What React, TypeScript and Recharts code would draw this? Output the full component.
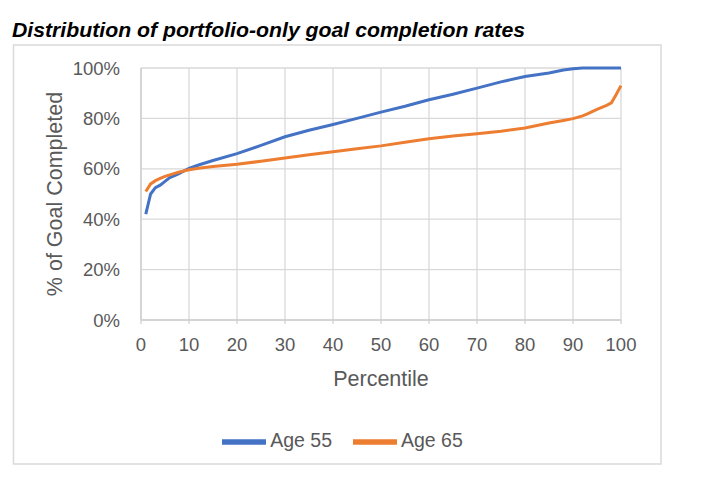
import React from "react";
import { LineChart, Line, XAxis, YAxis, CartesianGrid, Legend } from "recharts";

const percentiles = [1, 2, 3, 4, 5, 6, 7, 8, 10, 12, 15, 20, 25, 30, 35, 40, 45, 50, 55, 60, 65, 70, 75, 80, 85, 88, 90, 92, 93, 95, 97, 98, 99, 100];
const age55 = [42, 50, 52.5, 53.5, 55, 56.5, 57.3, 58.2, 60.2, 61.5, 63.3, 66, 69.3, 72.7, 75.3, 77.6, 80, 82.5, 84.8, 87.4, 89.6, 92, 94.5, 96.6, 98, 99.2, 99.7, 100, 100, 100, 100, 100, 100, 100];
const age65 = [51, 54, 55.3, 56.2, 57, 57.6, 58.2, 58.7, 59.6, 60.2, 60.9, 61.8, 63, 64.3, 65.6, 66.8, 68, 69.1, 70.5, 71.9, 73, 73.9, 74.9, 76.2, 78.2, 79.2, 79.9, 81, 81.8, 83.6, 85.2, 86.2, 89.5, 93];
const xTicks = [0, 10, 20, 30, 40, 50, 60, 70, 80, 90, 100];
const yTicks = [0, 20, 40, 60, 80, 100];

const data = percentiles.map((p, i) => ({ p, a55: age55[i], a65: age65[i] }));

const FONT = "'Liberation Sans', Arial, sans-serif";
const TXT = "#595959";

export default function App() {
  return (
    <div style={{ position: "absolute", left: 0, top: 0, width: 706, height: 486, background: "#fff" }}>
      <svg width={706} height={486} style={{ position: "absolute", left: 0, top: 0 }}>
        <text
          x={12}
          y={37}
          fontFamily={FONT}
          fontWeight="bold"
          fontStyle="italic"
          fontSize={20}
          fill="#000"
          textLength={513}
          lengthAdjust="spacingAndGlyphs"
        >
          Distribution of portfolio-only goal completion rates
        </text>
        <rect x={13.5} y={45} width={647.5} height={419} fill="none" stroke="#d9d9d9" strokeWidth={1.5} />
      </svg>
      <div style={{ position: "absolute", left: 0, top: 0 }}>
        <LineChart
          width={706}
          height={486}
          data={data}
          margin={{ top: 68, right: 85, left: 81, bottom: 92 }}
          style={{ fontFamily: FONT }}
        >
          <CartesianGrid stroke="#d9d9d9" strokeWidth={1.3} />
          <XAxis
            dataKey="p"
            type="number"
            domain={[0, 100]}
            ticks={xTicks}
            interval={0}
            height={30}
            tickSize={4}
            tickMargin={14}
            axisLine={{ stroke: "#cfcfcf", strokeWidth: 1.5 }}
            tickLine={{ stroke: "#cfcfcf", strokeWidth: 1.3 }}
            tick={{ fill: TXT, fontSize: 18.5, fontFamily: FONT }}
            label={{ value: "Percentile", position: "insideBottom", offset: -36, fill: TXT, fontSize: 21.5, fontFamily: FONT }}
          />
          <YAxis
            type="number"
            domain={[0, 100]}
            ticks={yTicks}
            interval={0}
            width={60}
            tickSize={19}
            tickLine={false}
            axisLine={{ stroke: "#cfcfcf", strokeWidth: 1.5 }}
            tickFormatter={(v: number) => `${v}%`}
            tick={{ fill: TXT, fontSize: 18.5, fontFamily: FONT }}
            label={{
              value: "% of Goal Completed",
              angle: -90,
              position: "insideLeft",
              offset: 0,
              dx: -27,
              fill: TXT,
              fontSize: 21.5,
              fontFamily: FONT,
              style: { textAnchor: "middle" },
            }}
          />
          <Legend
            verticalAlign="bottom"
            align="center"
            iconType="plainline"
            iconSize={44}
            wrapperStyle={{ position: "absolute", top: 420, left: 0, width: 706, fontFamily: FONT, fontSize: 19.5 }}
            formatter={(value: string) => <span style={{ color: TXT, paddingRight: 11 }}>{value}</span>}
          />
          <Line
            type="linear"
            dataKey="a55"
            name="Age 55"
            stroke="#4472c4"
            strokeWidth={3}
            dot={false}
            isAnimationActive={false}
          />
          <Line
            type="linear"
            dataKey="a65"
            name="Age 65"
            stroke="#ed7d31"
            strokeWidth={3}
            dot={false}
            isAnimationActive={false}
          />
        </LineChart>
      </div>
    </div>
  );
}
